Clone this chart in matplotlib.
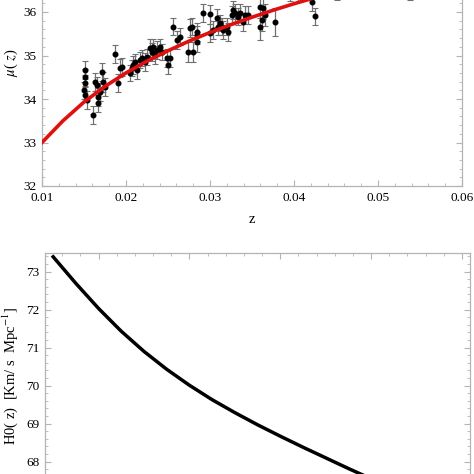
import matplotlib
matplotlib.use("Agg")
import matplotlib.pyplot as plt
from matplotlib.ticker import MultipleLocator

plt.rcParams['font.family'] = ['Liberation Serif', 'DejaVu Serif']
plt.rcParams['mathtext.fontset'] = 'stix'

# top panel: distance modulus data
z_obs = [0.0150, 0.0151, 0.0151, 0.0151, 0.0151, 0.0154, 0.0161, 0.0163, 0.0166, 0.0167,
         0.0167, 0.0169, 0.0171, 0.0173, 0.0175, 0.0187, 0.0191, 0.0193, 0.0195, 0.0205,
         0.0207, 0.0208, 0.0211, 0.0213, 0.0217, 0.0219, 0.0223, 0.0225, 0.0229, 0.0231,
         0.0232, 0.0235, 0.0237, 0.0241, 0.0243, 0.0249, 0.0250, 0.0252, 0.0256, 0.0261,
         0.0264, 0.0274, 0.0276, 0.0279, 0.0280, 0.0285, 0.0285, 0.0285, 0.0292, 0.0300,
         0.0300, 0.0304, 0.0308, 0.0310, 0.0312, 0.0314, 0.0316, 0.0320, 0.0321, 0.0326,
         0.0327, 0.0330, 0.0333, 0.0336, 0.0339, 0.0342, 0.0345, 0.0360, 0.0362, 0.0360,
         0.0363, 0.0366, 0.0377, 0.0395, 0.0405, 0.0421, 0.0425, 0.0451, 0.0488, 0.0538]
mu_obs = [34.20, 34.67, 34.50, 34.37, 34.10, 33.98, 33.63, 34.39, 34.32, 34.05,
          33.90, 34.16, 34.62, 34.39, 34.28, 35.03, 34.37, 34.71, 34.74, 34.60,
          34.71, 34.78, 34.85, 34.67, 34.90, 34.94, 34.85, 34.97, 35.17, 35.08,
          35.20, 35.01, 35.13, 35.20, 35.08, 34.94, 34.78, 34.94, 35.66, 35.36,
          35.43, 35.08, 35.63, 35.66, 35.08, 35.54, 35.47, 35.31, 35.98, 35.95,
          35.52, 35.59, 35.86, 35.66, 35.75, 35.66, 35.59, 35.66, 35.54, 35.93,
          36.05, 35.98, 35.89, 35.98, 35.77, 35.93, 35.93, 36.11, 35.82, 35.66,
          36.09, 35.93, 35.77, 36.45, 36.42, 36.22, 35.90, 36.50, 36.60, 36.50]
mu_err = [0.20, 0.20, 0.20, 0.18, 0.18, 0.20, 0.20, 0.20, 0.18, 0.20,
          0.20, 0.20, 0.20, 0.22, 0.20, 0.20, 0.20, 0.20, 0.20, 0.18,
          0.18, 0.20, 0.18, 0.20, 0.18, 0.18, 0.20, 0.18, 0.20, 0.20,
          0.18, 0.20, 0.20, 0.18, 0.18, 0.20, 0.20, 0.20, 0.20, 0.20,
          0.20, 0.22, 0.20, 0.20, 0.22, 0.20, 0.20, 0.22, 0.20, 0.22,
          0.20, 0.20, 0.20, 0.18, 0.18, 0.20, 0.20, 0.20, 0.20, 0.20,
          0.20, 0.20, 0.20, 0.20, 0.20, 0.20, 0.20, 0.25, 0.25, 0.30,
          0.25, 0.25, 0.32, 0.20, 0.20, 0.20, 0.20, 0.22, 0.28, 0.22]

# top panel: model curve
z_fit = [0.010, 0.0125, 0.015, 0.0175, 0.020, 0.0225, 0.025, 0.0275, 0.030, 0.0325,
         0.035, 0.0375, 0.040, 0.045, 0.050, 0.055, 0.060]
mu_fit = [33.00, 33.50, 33.93, 34.29, 34.60, 34.87, 35.11, 35.33, 35.53, 35.71,
          35.88, 36.04, 36.19, 36.47, 36.72, 36.94, 37.14]

# bottom panel: H0(z)
z_h = [0.010, 0.015, 0.020, 0.025, 0.030, 0.035, 0.040, 0.045, 0.050, 0.055,
       0.060, 0.065, 0.070, 0.075, 0.080, 0.085, 0.090, 0.095, 0.100]
h0 = [73.39, 72.69, 72.03, 71.43, 70.90, 70.43, 70.01, 69.63, 69.29, 68.97,
      68.67, 68.38, 68.10, 67.82, 67.55, 67.29, 67.03, 66.77, 66.52]

gray = '#b4b4b4'
dpi = 100
fig = plt.figure(figsize=(474 / dpi, 474 / dpi), dpi=dpi)


def style(ax):
    for s in ax.spines.values():
        s.set_color(gray)
        s.set_linewidth(0.9)
    ax.tick_params(which='both', direction='in', top=True, right=True,
                   color=gray, labelsize=9.5, pad=4)
    ax.tick_params(which='major', length=4, width=0.8)
    ax.tick_params(which='minor', length=2.2, width=0.6)


# top panel (its upper part lies above the canvas)
ax1 = fig.add_axes([42 / 474, 1 - 186 / 474, 420 / 474, 4.9 * 43.5 / 474])
ax1.errorbar(z_obs, mu_obs, yerr=mu_err, fmt='o', color='black', ms=3.3,
             ecolor='#707070', elinewidth=0.9, capsize=2.3, capthick=0.8, zorder=2)
ax1.plot(z_fit, mu_fit, color='#e01010', lw=2.6, zorder=3)
ax1.set_xlim(0.01, 0.06)
ax1.set_ylim(32, 36.9)
ax1.xaxis.set_minor_locator(MultipleLocator(0.002))
ax1.yaxis.set_major_locator(MultipleLocator(1))
ax1.yaxis.set_minor_locator(MultipleLocator(0.2))
ax1.set_xticks([0.01, 0.02, 0.03, 0.04, 0.05, 0.06])
ax1.set_xticklabels(['0.01', '0.02', '0.03', '0.04', '0.05', '0.06'])
style(ax1)
ax1.set_xlabel('z', fontsize=10.5)
ax1.xaxis.set_label_coords(0.5, -0.128)
ax1.set_ylabel(r'$\mu$( $z$)', fontsize=10.5)
ax1.yaxis.set_label_coords(-0.052, 0.58)

# bottom panel (its lower part lies below the canvas)
h2 = (73.49 - 67.4) * 38
ax2 = fig.add_axes([45 / 474, 1 - (253 + h2) / 474, 425 / 474, h2 / 474])
ax2.plot(z_h, h0, color='black', lw=2.5)
ax2.set_xlim(0.0082, 0.1018)
ax2.set_ylim(67.4, 73.49)
ax2.xaxis.set_major_locator(MultipleLocator(0.02))
ax2.xaxis.set_minor_locator(MultipleLocator(0.004))
ax2.yaxis.set_major_locator(MultipleLocator(1))
ax2.yaxis.set_minor_locator(MultipleLocator(0.2))
style(ax2)
ax2.tick_params(labelbottom=False)
ax2.set_ylabel(r'H0( z)  [Km/ s  Mpc$^{-1}$]', fontsize=10.5)
ax2.yaxis.set_label_coords(-0.059, 0.47)

fig.savefig('out.png', dpi=dpi)
